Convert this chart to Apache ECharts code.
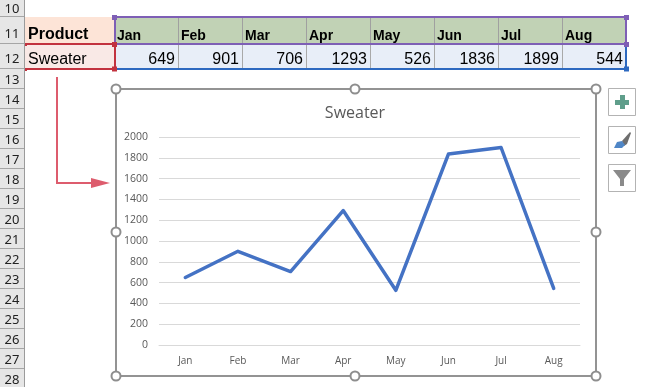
<!DOCTYPE html>
<html>
<head>
<meta charset="utf-8">
<title>Sweater</title>
<style>
html, body { margin: 0; padding: 0; background: #fff; }
#chart { width: 652px; height: 387px; }
</style>
<script src="https://cdn.jsdelivr.net/npm/echarts@6/dist/echarts.min.js"></script>
</head>
<body>
<div id="chart"></div>
<script>
var months = ['Jan', 'Feb', 'Mar', 'Apr', 'May', 'Jun', 'Jul', 'Aug'];
var sweater = [649, 901, 706, 1293, 526, 1836, 1899, 544];
var rowNames = ['10', '11', '12', '13', '14', '15', '16', '17', '18', '19', '20', '21', '22', '23', '24', '25', '26', '27', '28'];
var productHead = 'Product';
var productName = 'Sweater';

var CHART_FONT = '"Open Sans", sans-serif';
var CELL_FONT = '"Liberation Sans", Arial, sans-serif';

function rect(x, y, w, h, fill, z) {
    return { type: 'rect', shape: { x: x, y: y, width: w, height: h }, style: { fill: fill }, z: z || 1, silent: true };
}
function cellText(x, y, text, font, align, color, weight) {
    return {
        type: 'text', x: x, y: y, z: 5, silent: true,
        style: { text: text, font: (weight || 'normal') + ' ' + font + 'px ' + CELL_FONT, fill: color || '#000', align: align, verticalAlign: 'middle' }
    };
}
function polyline(points, color, width, z) {
    return { type: 'polyline', shape: { points: points }, style: { stroke: color, lineWidth: width, fill: 'none' }, z: z || 6, silent: true };
}
function handle(x, y) {
    return { type: 'circle', shape: { cx: x, cy: y, r: 4.5 }, style: { fill: '#fff', stroke: '#8e8e8e', lineWidth: 2 }, z: 9, silent: true };
}
function button(y) {
    return { type: 'rect', shape: { x: 608.5, y: y + 0.5, width: 27, height: 27 }, style: { fill: '#fff', stroke: '#b3b3b3', lineWidth: 1 }, z: 7, silent: true };
}

var graphics = [];

// row header strip
graphics.push(rect(0, 0, 24, 387, '#e6e6e6'));
graphics.push(rect(24, 0, 1, 387, '#9b9b9b'));
var rowY = 0;
var rowHeights = { '10': 17, '11': 27, '12': 25 };
var rowShift = { '11': 4, '12': 3 };
rowNames.forEach(function (name) {
    var h = rowHeights[name] || 20;
    graphics.push(rect(0, rowY + h - 1, 24, 1, '#a6a6a6', 2));
    graphics.push({
        type: 'text', x: 12, y: rowY + h / 2 + (rowShift[name] || 1), z: 5, silent: true,
        style: { text: name, font: '13px "Noto Sans", sans-serif', fill: '#222', align: 'center', verticalAlign: 'middle' }
    });
    rowY += h;
});

// product cells
graphics.push(rect(25, 17, 90, 27, '#fde4d7'));
graphics.push(rect(25, 44, 90, 25, '#f9e9e6'));
graphics.push(cellText(28, 35, productHead, 16, 'left', '#000', 'bold'));
graphics.push(cellText(28, 60, productName, 16, 'left', '#000'));

// month / value cells, pulled straight from the data arrays
graphics.push(rect(116, 18, 510, 26, '#c1d2b5'));
graphics.push(rect(116, 45, 510, 24, '#e8eef8'));
months.forEach(function (m, i) {
    var x = 115 + i * 64;
    if (i > 0) {
        graphics.push(rect(x - 1, 18, 1, 26, '#a0a0a0', 2));
        graphics.push(rect(x - 1, 45, 1, 23, '#a9a9a9', 2));
    }
    graphics.push(cellText(x + 2, 36, m, 14, 'left', '#000', 'bold'));
    graphics.push(cellText(x + 60, 60, String(sweater[i]), 16, 'right', '#000'));
});

// range selection borders
graphics.push(polyline([[115, 17], [626, 17], [626, 44], [115, 44], [115, 17]], '#7e5fb5', 2));
graphics.push(polyline([[115, 69], [626, 69], [626, 45]], '#2d69c0', 2));
graphics.push(polyline([[25, 44], [115, 44], [115, 69], [25, 69]], '#c2323f', 2, 7));
[[114.5, 17.5, '#7e5fb5'], [626.5, 17.5, '#7e5fb5'], [626.5, 44.5, '#7e5fb5'], [626.5, 69, '#2d69c0'], [114.5, 44.5, '#c2323f'], [114.5, 69, '#c2323f']].forEach(function (s) {
    graphics.push(rect(s[0] - 2.5, s[1] - 2.5, 5, 5, s[2], 8));
});
graphics.push(rect(25, 43, 2, 3, '#c2323f', 8));
graphics.push(rect(25, 68, 2, 3, '#c2323f', 8));

// pink arrow
graphics.push(polyline([[57, 77], [57, 183], [94, 183]], '#dd5c6d', 2));
graphics.push({ type: 'polygon', shape: { points: [[91, 178], [110, 183], [91, 188]] }, style: { fill: '#dd5c6d' }, z: 6, silent: true });

// chart frame and handles
graphics.push({ type: 'rect', shape: { x: 116, y: 89, width: 480, height: 287 }, style: { fill: 'none', stroke: '#939393', lineWidth: 2 }, z: 6, silent: true });
[[116, 89], [355, 89], [596, 89], [116, 232], [596, 232], [116, 376], [355, 376], [596, 376]].forEach(function (p) {
    graphics.push(handle(p[0], p[1]));
});

// side buttons
graphics.push(button(88), button(126), button(164));
graphics.push(rect(620, 95, 5, 14, '#5f9e8b', 8));
graphics.push(rect(615, 100, 14, 5, '#5f9e8b', 8));
graphics.push({ type: 'polygon', shape: { points: [[622, 141], [630, 132], [631, 133], [627, 144], [624, 146]] }, style: { fill: '#6e6e6e' }, z: 8, silent: true });
graphics.push({ type: 'polygon', shape: { points: [[614, 148], [617, 142], [622, 141], [625, 145], [622, 148]] }, style: { fill: '#4f86c6' }, z: 8, silent: true });
graphics.push({ type: 'polygon', shape: { points: [[613, 170], [631, 170], [624, 179], [624, 186], [620, 186], [620, 179]] }, style: { fill: '#8a8a8a' }, z: 8, silent: true });

var myChart = echarts.init(document.getElementById('chart'), null, { renderer: 'canvas' });

var option = {
    animation: false,
    backgroundColor: 'transparent',
    title: {
        text: productName,
        left: 350,
        top: 100,
        textAlign: 'center',
        textStyle: { fontFamily: CHART_FONT, fontSize: 16, fontWeight: 'normal', color: '#595959' }
    },
    grid: { left: 159, right: 72, top: 137, bottom: 42 },
    xAxis: {
        type: 'category',
        data: months,
        boundaryGap: true,
        axisLine: { lineStyle: { color: '#d9d9d9', width: 1 } },
        axisTick: { show: false },
        axisLabel: { color: '#595959', fontFamily: CHART_FONT, fontSize: 10, margin: 11 }
    },
    yAxis: {
        type: 'value',
        min: 0,
        max: 2000,
        interval: 200,
        axisLine: { show: false },
        axisTick: { show: false },
        axisLabel: {
            color: '#595959', fontFamily: CHART_FONT, fontSize: 10.5, margin: 11,
            formatter: function (v) { return String(v); }
        },
        splitLine: { lineStyle: { color: '#d9d9d9', width: 1 } }
    },
    series: [
        {
            name: productName,
            type: 'line',
            data: sweater,
            showSymbol: false,
            symbol: 'none',
            lineStyle: { color: '#4472c4', width: 3.5, cap: 'round', join: 'round' }
        }
    ],
    graphic: { elements: graphics }
};

myChart.setOption(option);
</script>
</body>
</html>
